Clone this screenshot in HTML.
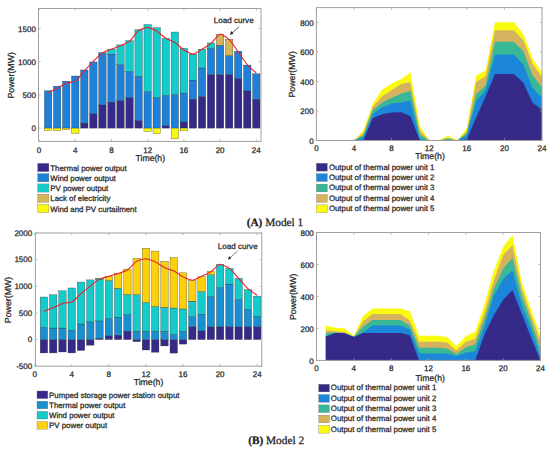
<!DOCTYPE html><html><head><meta charset="utf-8"><style>html,body{margin:0;padding:0;background:#fff;width:550px;height:450px;overflow:hidden}svg{display:block}</style></head><body>
<svg width="550" height="450" viewBox="0 0 550 450" font-family='"Liberation Sans", sans-serif' font-size="8.0" fill="#262626">
<style>text{stroke:#262626;stroke-width:0.25px;text-rendering:geometricPrecision}</style>
<rect width="550" height="450" fill="#fff"/>
<rect x="44.38" y="90.7" width="7.45" height="37.41" fill="#1f80d8" stroke="#2a2a2a" stroke-width="0.3"/>
<rect x="44.38" y="128.11" width="7.45" height="2.33" fill="#f7f711" stroke="#2a2a2a" stroke-width="0.3"/>
<rect x="53.43" y="86.11" width="7.45" height="42" fill="#1f80d8" stroke="#2a2a2a" stroke-width="0.3"/>
<rect x="53.43" y="128.11" width="7.45" height="2.59" fill="#f7f711" stroke="#2a2a2a" stroke-width="0.3"/>
<rect x="62.48" y="81.2" width="7.45" height="46.91" fill="#1f80d8" stroke="#2a2a2a" stroke-width="0.3"/>
<rect x="62.48" y="128.11" width="7.45" height="1.73" fill="#f7f711" stroke="#2a2a2a" stroke-width="0.3"/>
<rect x="71.53" y="76.01" width="7.45" height="52.1" fill="#1f80d8" stroke="#2a2a2a" stroke-width="0.3"/>
<rect x="71.53" y="128.11" width="7.45" height="5.18" fill="#f7f711" stroke="#2a2a2a" stroke-width="0.3"/>
<rect x="80.59" y="123.13" width="7.45" height="4.98" fill="#352a87" stroke="#2a2a2a" stroke-width="0.3"/>
<rect x="80.59" y="69.97" width="7.45" height="53.16" fill="#1f80d8" stroke="#2a2a2a" stroke-width="0.3"/>
<rect x="89.64" y="113.62" width="7.45" height="14.49" fill="#352a87" stroke="#2a2a2a" stroke-width="0.3"/>
<rect x="89.64" y="61.93" width="7.45" height="51.7" fill="#1f80d8" stroke="#2a2a2a" stroke-width="0.3"/>
<rect x="98.69" y="104.99" width="7.45" height="23.12" fill="#352a87" stroke="#2a2a2a" stroke-width="0.3"/>
<rect x="98.69" y="52.69" width="7.45" height="52.3" fill="#1f80d8" stroke="#2a2a2a" stroke-width="0.3"/>
<rect x="107.74" y="102.19" width="7.45" height="25.92" fill="#352a87" stroke="#2a2a2a" stroke-width="0.3"/>
<rect x="107.74" y="54.15" width="7.45" height="48.04" fill="#1f80d8" stroke="#2a2a2a" stroke-width="0.3"/>
<rect x="107.74" y="49.23" width="7.45" height="4.92" fill="#13cccc" stroke="#2a2a2a" stroke-width="0.3"/>
<rect x="116.79" y="100.47" width="7.45" height="27.64" fill="#352a87" stroke="#2a2a2a" stroke-width="0.3"/>
<rect x="116.79" y="64.72" width="7.45" height="35.75" fill="#1f80d8" stroke="#2a2a2a" stroke-width="0.3"/>
<rect x="116.79" y="44.91" width="7.45" height="19.8" fill="#13cccc" stroke="#2a2a2a" stroke-width="0.3"/>
<rect x="125.84" y="97.61" width="7.45" height="30.5" fill="#352a87" stroke="#2a2a2a" stroke-width="0.3"/>
<rect x="125.84" y="71.63" width="7.45" height="25.98" fill="#1f80d8" stroke="#2a2a2a" stroke-width="0.3"/>
<rect x="125.84" y="40.66" width="7.45" height="30.97" fill="#13cccc" stroke="#2a2a2a" stroke-width="0.3"/>
<rect x="134.9" y="120.47" width="7.45" height="7.64" fill="#352a87" stroke="#2a2a2a" stroke-width="0.3"/>
<rect x="134.9" y="76.28" width="7.45" height="44.19" fill="#1f80d8" stroke="#2a2a2a" stroke-width="0.3"/>
<rect x="134.9" y="29.7" width="7.45" height="46.58" fill="#13cccc" stroke="#2a2a2a" stroke-width="0.3"/>
<rect x="143.95" y="91.56" width="7.45" height="36.55" fill="#1f80d8" stroke="#2a2a2a" stroke-width="0.3"/>
<rect x="143.95" y="24.51" width="7.45" height="67.05" fill="#13cccc" stroke="#2a2a2a" stroke-width="0.3"/>
<rect x="143.95" y="128.11" width="7.45" height="3.19" fill="#f7f711" stroke="#2a2a2a" stroke-width="0.3"/>
<rect x="153" y="97.41" width="7.45" height="30.7" fill="#1f80d8" stroke="#2a2a2a" stroke-width="0.3"/>
<rect x="153" y="27.7" width="7.45" height="69.71" fill="#13cccc" stroke="#2a2a2a" stroke-width="0.3"/>
<rect x="153" y="128.11" width="7.45" height="5.45" fill="#f7f711" stroke="#2a2a2a" stroke-width="0.3"/>
<rect x="162.05" y="125.85" width="7.45" height="2.26" fill="#352a87" stroke="#2a2a2a" stroke-width="0.3"/>
<rect x="162.05" y="95.42" width="7.45" height="30.43" fill="#1f80d8" stroke="#2a2a2a" stroke-width="0.3"/>
<rect x="162.05" y="38.34" width="7.45" height="57.08" fill="#13cccc" stroke="#2a2a2a" stroke-width="0.3"/>
<rect x="171.1" y="94.55" width="7.45" height="33.56" fill="#1f80d8" stroke="#2a2a2a" stroke-width="0.3"/>
<rect x="171.1" y="32.02" width="7.45" height="62.53" fill="#13cccc" stroke="#2a2a2a" stroke-width="0.3"/>
<rect x="171.1" y="128.11" width="7.45" height="10.76" fill="#f7f711" stroke="#2a2a2a" stroke-width="0.3"/>
<rect x="180.16" y="122" width="7.45" height="6.11" fill="#352a87" stroke="#2a2a2a" stroke-width="0.3"/>
<rect x="180.16" y="93.22" width="7.45" height="28.77" fill="#1f80d8" stroke="#2a2a2a" stroke-width="0.3"/>
<rect x="180.16" y="48.37" width="7.45" height="44.85" fill="#13cccc" stroke="#2a2a2a" stroke-width="0.3"/>
<rect x="180.16" y="128.11" width="7.45" height="2.79" fill="#f7f711" stroke="#2a2a2a" stroke-width="0.3"/>
<rect x="189.21" y="99.2" width="7.45" height="28.91" fill="#352a87" stroke="#2a2a2a" stroke-width="0.3"/>
<rect x="189.21" y="80.07" width="7.45" height="19.14" fill="#1f80d8" stroke="#2a2a2a" stroke-width="0.3"/>
<rect x="189.21" y="54.15" width="7.45" height="25.92" fill="#13cccc" stroke="#2a2a2a" stroke-width="0.3"/>
<rect x="198.26" y="96.48" width="7.45" height="31.63" fill="#352a87" stroke="#2a2a2a" stroke-width="0.3"/>
<rect x="198.26" y="67.97" width="7.45" height="28.51" fill="#1f80d8" stroke="#2a2a2a" stroke-width="0.3"/>
<rect x="198.26" y="49.23" width="7.45" height="18.74" fill="#13cccc" stroke="#2a2a2a" stroke-width="0.3"/>
<rect x="207.31" y="74.55" width="7.45" height="53.56" fill="#352a87" stroke="#2a2a2a" stroke-width="0.3"/>
<rect x="207.31" y="48.37" width="7.45" height="26.18" fill="#1f80d8" stroke="#2a2a2a" stroke-width="0.3"/>
<rect x="207.31" y="42.92" width="7.45" height="5.45" fill="#13cccc" stroke="#2a2a2a" stroke-width="0.3"/>
<rect x="216.36" y="74.55" width="7.45" height="53.56" fill="#352a87" stroke="#2a2a2a" stroke-width="0.3"/>
<rect x="216.36" y="45.25" width="7.45" height="29.3" fill="#1f80d8" stroke="#2a2a2a" stroke-width="0.3"/>
<rect x="216.36" y="34.28" width="7.45" height="10.96" fill="#d6b45c" stroke="#2a2a2a" stroke-width="0.3"/>
<rect x="225.42" y="74.55" width="7.45" height="53.56" fill="#352a87" stroke="#2a2a2a" stroke-width="0.3"/>
<rect x="225.42" y="55.61" width="7.45" height="18.94" fill="#1f80d8" stroke="#2a2a2a" stroke-width="0.3"/>
<rect x="225.42" y="39.2" width="7.45" height="16.41" fill="#d6b45c" stroke="#2a2a2a" stroke-width="0.3"/>
<rect x="234.47" y="78.6" width="7.45" height="49.51" fill="#352a87" stroke="#2a2a2a" stroke-width="0.3"/>
<rect x="234.47" y="51.23" width="7.45" height="27.38" fill="#1f80d8" stroke="#2a2a2a" stroke-width="0.3"/>
<rect x="243.52" y="90.9" width="7.45" height="37.21" fill="#352a87" stroke="#2a2a2a" stroke-width="0.3"/>
<rect x="243.52" y="65.05" width="7.45" height="25.85" fill="#1f80d8" stroke="#2a2a2a" stroke-width="0.3"/>
<rect x="252.57" y="99.27" width="7.45" height="28.84" fill="#352a87" stroke="#2a2a2a" stroke-width="0.3"/>
<rect x="252.57" y="73.75" width="7.45" height="25.52" fill="#1f80d8" stroke="#2a2a2a" stroke-width="0.3"/>
<path d="M48.1,92.69 C51.12,91.46 54.14,90.06 57.15,88.57 C60.17,86.89 63.19,84.35 66.21,83.06 C69.22,82.25 72.24,82.08 75.26,81.2 C78.28,79.18 81.29,74.19 84.31,70.83 C87.33,67.6 90.34,64.46 93.36,61.39 C96.38,58.44 99.4,54.95 102.41,52.76 C105.43,51.22 108.45,50.22 111.47,49.03 C114.48,47.92 117.5,47.02 120.52,45.84 C123.54,44.48 126.55,43.16 129.57,41.26 C132.59,38.55 135.6,32.97 138.62,30.56 C141.64,29.15 144.66,27.8 147.67,27.37 C150.69,27.87 153.71,29.61 156.73,31.09 C159.74,33.04 162.76,36.33 165.78,38.34 C168.8,39.92 171.81,40.79 174.83,42.39 C177.85,44.47 180.86,47.94 183.88,50.03 C186.9,51.65 189.92,53.6 192.93,54.15 C195.95,53.5 198.97,50.95 201.99,49.23 C205,47.41 208.02,45.7 211.04,43.52 C214.06,40.84 217.07,35.34 220.09,34.08 C223.11,34.79 226.12,37.2 229.14,39.4 C232.16,42.55 235.18,47.64 238.19,51.83 C241.21,56.06 244.23,60.92 247.25,64.65 C250.26,67.77 253.28,70.64 256.3,72.96" fill="none" stroke="#e8212a" stroke-width="1.1" stroke-linejoin="round"/>
<rect x="38.5" y="8.5" width="222.5" height="132.9" fill="none" stroke="#a0a0a0" stroke-width="1.0"/>
<line x1="39.05" y1="141.4" x2="39.05" y2="139.2" stroke="#a0a0a0" stroke-width="0.7"/>
<line x1="39.05" y1="8.5" x2="39.05" y2="10.7" stroke="#a0a0a0" stroke-width="0.7"/>
<text x="39.05" y="152.6" text-anchor="middle">0</text>
<line x1="75.26" y1="141.4" x2="75.26" y2="139.2" stroke="#a0a0a0" stroke-width="0.7"/>
<line x1="75.26" y1="8.5" x2="75.26" y2="10.7" stroke="#a0a0a0" stroke-width="0.7"/>
<text x="75.26" y="152.6" text-anchor="middle">4</text>
<line x1="111.47" y1="141.4" x2="111.47" y2="139.2" stroke="#a0a0a0" stroke-width="0.7"/>
<line x1="111.47" y1="8.5" x2="111.47" y2="10.7" stroke="#a0a0a0" stroke-width="0.7"/>
<text x="111.47" y="152.6" text-anchor="middle">8</text>
<line x1="147.67" y1="141.4" x2="147.67" y2="139.2" stroke="#a0a0a0" stroke-width="0.7"/>
<line x1="147.67" y1="8.5" x2="147.67" y2="10.7" stroke="#a0a0a0" stroke-width="0.7"/>
<text x="147.67" y="152.6" text-anchor="middle">12</text>
<line x1="183.88" y1="141.4" x2="183.88" y2="139.2" stroke="#a0a0a0" stroke-width="0.7"/>
<line x1="183.88" y1="8.5" x2="183.88" y2="10.7" stroke="#a0a0a0" stroke-width="0.7"/>
<text x="183.88" y="152.6" text-anchor="middle">16</text>
<line x1="220.09" y1="141.4" x2="220.09" y2="139.2" stroke="#a0a0a0" stroke-width="0.7"/>
<line x1="220.09" y1="8.5" x2="220.09" y2="10.7" stroke="#a0a0a0" stroke-width="0.7"/>
<text x="220.09" y="152.6" text-anchor="middle">20</text>
<line x1="256.3" y1="141.4" x2="256.3" y2="139.2" stroke="#a0a0a0" stroke-width="0.7"/>
<line x1="256.3" y1="8.5" x2="256.3" y2="10.7" stroke="#a0a0a0" stroke-width="0.7"/>
<text x="256.3" y="152.6" text-anchor="middle">24</text>
<line x1="38.5" y1="128.11" x2="40.7" y2="128.11" stroke="#a0a0a0" stroke-width="0.7"/>
<line x1="261" y1="128.11" x2="258.8" y2="128.11" stroke="#a0a0a0" stroke-width="0.7"/>
<text x="35.9" y="131.41" text-anchor="end">0</text>
<line x1="38.5" y1="94.89" x2="40.7" y2="94.89" stroke="#a0a0a0" stroke-width="0.7"/>
<line x1="261" y1="94.89" x2="258.8" y2="94.89" stroke="#a0a0a0" stroke-width="0.7"/>
<text x="35.9" y="98.19" text-anchor="end">500</text>
<line x1="38.5" y1="61.66" x2="40.7" y2="61.66" stroke="#a0a0a0" stroke-width="0.7"/>
<line x1="261" y1="61.66" x2="258.8" y2="61.66" stroke="#a0a0a0" stroke-width="0.7"/>
<text x="35.9" y="64.96" text-anchor="end">1000</text>
<line x1="38.5" y1="28.44" x2="40.7" y2="28.44" stroke="#a0a0a0" stroke-width="0.7"/>
<line x1="261" y1="28.44" x2="258.8" y2="28.44" stroke="#a0a0a0" stroke-width="0.7"/>
<text x="35.9" y="31.74" text-anchor="end">1500</text>
<text x="150.3" y="160.7" text-anchor="middle" font-size="8.7">Time(h)</text>
<text transform="translate(14.2,75.3) rotate(-90)" text-anchor="middle" font-size="8.8">Power(MW)</text>
<text x="213.8" y="22.5" font-size="8.05">Load curve</text>
<line x1="239.2" y1="26.6" x2="232.0" y2="33.0" stroke="#262626" stroke-width="0.75"/>
<path d="M229.9,34.9 L231.1,30.9 L233.5,33.5 Z" fill="#262626"/>
<rect x="37.7" y="163.4" width="11.2" height="8.2" fill="#352a87" stroke="#666" stroke-width="0.3"/>
<text x="50.3" y="170.5" font-size="7.85">Thermal power output</text>
<rect x="37.7" y="173.65" width="11.2" height="8.2" fill="#1f80d8" stroke="#666" stroke-width="0.3"/>
<text x="50.3" y="180.75" font-size="7.85">Wind power output</text>
<rect x="37.7" y="183.9" width="11.2" height="8.2" fill="#13cccc" stroke="#666" stroke-width="0.3"/>
<text x="50.3" y="191" font-size="7.85">PV power output</text>
<rect x="37.7" y="194.15" width="11.2" height="8.2" fill="#d6b45c" stroke="#666" stroke-width="0.3"/>
<text x="50.3" y="201.25" font-size="7.85">Lack of electricity</text>
<rect x="37.7" y="204.4" width="11.2" height="8.2" fill="#f7f711" stroke="#666" stroke-width="0.3"/>
<text x="50.3" y="211.5" font-size="7.85">Wind and PV curtailment</text>
<rect x="40.2" y="339.56" width="7.45" height="13.37" fill="#352a87" stroke="#2a2a2a" stroke-width="0.3"/>
<rect x="40.2" y="327.47" width="7.45" height="12.09" fill="#1a8fd0" stroke="#2a2a2a" stroke-width="0.3"/>
<rect x="40.2" y="296.99" width="7.45" height="30.48" fill="#14caca" stroke="#2a2a2a" stroke-width="0.3"/>
<rect x="49.47" y="339.56" width="7.45" height="13.37" fill="#352a87" stroke="#2a2a2a" stroke-width="0.3"/>
<rect x="49.47" y="328.05" width="7.45" height="11.51" fill="#1a8fd0" stroke="#2a2a2a" stroke-width="0.3"/>
<rect x="49.47" y="294.8" width="7.45" height="33.25" fill="#14caca" stroke="#2a2a2a" stroke-width="0.3"/>
<rect x="58.75" y="339.56" width="7.45" height="12.41" fill="#352a87" stroke="#2a2a2a" stroke-width="0.3"/>
<rect x="58.75" y="328.05" width="7.45" height="11.51" fill="#1a8fd0" stroke="#2a2a2a" stroke-width="0.3"/>
<rect x="58.75" y="290.81" width="7.45" height="37.24" fill="#14caca" stroke="#2a2a2a" stroke-width="0.3"/>
<rect x="68.02" y="339.56" width="7.45" height="13.37" fill="#352a87" stroke="#2a2a2a" stroke-width="0.3"/>
<rect x="68.02" y="330.24" width="7.45" height="9.32" fill="#1a8fd0" stroke="#2a2a2a" stroke-width="0.3"/>
<rect x="68.02" y="287.98" width="7.45" height="42.25" fill="#14caca" stroke="#2a2a2a" stroke-width="0.3"/>
<rect x="77.3" y="339.56" width="7.45" height="10.87" fill="#352a87" stroke="#2a2a2a" stroke-width="0.3"/>
<rect x="77.3" y="324" width="7.45" height="15.56" fill="#1a8fd0" stroke="#2a2a2a" stroke-width="0.3"/>
<rect x="77.3" y="282.07" width="7.45" height="41.93" fill="#14caca" stroke="#2a2a2a" stroke-width="0.3"/>
<rect x="86.57" y="339.56" width="7.45" height="5.59" fill="#352a87" stroke="#2a2a2a" stroke-width="0.3"/>
<rect x="86.57" y="321.87" width="7.45" height="17.69" fill="#1a8fd0" stroke="#2a2a2a" stroke-width="0.3"/>
<rect x="86.57" y="279.89" width="7.45" height="41.98" fill="#14caca" stroke="#2a2a2a" stroke-width="0.3"/>
<rect x="95.84" y="338.33" width="7.45" height="1.23" fill="#352a87" stroke="#2a2a2a" stroke-width="0.3"/>
<rect x="95.84" y="320.91" width="7.45" height="17.42" fill="#1a8fd0" stroke="#2a2a2a" stroke-width="0.3"/>
<rect x="95.84" y="278.98" width="7.45" height="41.93" fill="#14caca" stroke="#2a2a2a" stroke-width="0.3"/>
<rect x="95.84" y="278.82" width="7.45" height="0.16" fill="#fcd10c" stroke="#2a2a2a" stroke-width="0.3"/>
<rect x="105.12" y="335.83" width="7.45" height="3.73" fill="#352a87" stroke="#2a2a2a" stroke-width="0.3"/>
<rect x="105.12" y="318.73" width="7.45" height="17.1" fill="#1a8fd0" stroke="#2a2a2a" stroke-width="0.3"/>
<rect x="105.12" y="280.53" width="7.45" height="38.2" fill="#14caca" stroke="#2a2a2a" stroke-width="0.3"/>
<rect x="105.12" y="276.16" width="7.45" height="4.37" fill="#fcd10c" stroke="#2a2a2a" stroke-width="0.3"/>
<rect x="114.39" y="335.19" width="7.45" height="4.37" fill="#352a87" stroke="#2a2a2a" stroke-width="0.3"/>
<rect x="114.39" y="317.18" width="7.45" height="18.01" fill="#1a8fd0" stroke="#2a2a2a" stroke-width="0.3"/>
<rect x="114.39" y="288.3" width="7.45" height="28.88" fill="#14caca" stroke="#2a2a2a" stroke-width="0.3"/>
<rect x="114.39" y="273.07" width="7.45" height="15.24" fill="#fcd10c" stroke="#2a2a2a" stroke-width="0.3"/>
<rect x="123.66" y="331.2" width="7.45" height="8.36" fill="#352a87" stroke="#2a2a2a" stroke-width="0.3"/>
<rect x="123.66" y="314.73" width="7.45" height="16.46" fill="#1a8fd0" stroke="#2a2a2a" stroke-width="0.3"/>
<rect x="123.66" y="294.54" width="7.45" height="20.19" fill="#14caca" stroke="#2a2a2a" stroke-width="0.3"/>
<rect x="123.66" y="269.07" width="7.45" height="25.47" fill="#fcd10c" stroke="#2a2a2a" stroke-width="0.3"/>
<rect x="132.94" y="339.56" width="7.45" height="2.08" fill="#352a87" stroke="#2a2a2a" stroke-width="0.3"/>
<rect x="132.94" y="331.35" width="7.45" height="8.21" fill="#1a8fd0" stroke="#2a2a2a" stroke-width="0.3"/>
<rect x="132.94" y="294.64" width="7.45" height="36.71" fill="#14caca" stroke="#2a2a2a" stroke-width="0.3"/>
<rect x="132.94" y="258.2" width="7.45" height="36.44" fill="#fcd10c" stroke="#2a2a2a" stroke-width="0.3"/>
<rect x="142.21" y="339.56" width="7.45" height="10.44" fill="#352a87" stroke="#2a2a2a" stroke-width="0.3"/>
<rect x="142.21" y="331.35" width="7.45" height="8.21" fill="#1a8fd0" stroke="#2a2a2a" stroke-width="0.3"/>
<rect x="142.21" y="302.42" width="7.45" height="28.93" fill="#14caca" stroke="#2a2a2a" stroke-width="0.3"/>
<rect x="142.21" y="248.29" width="7.45" height="54.13" fill="#fcd10c" stroke="#2a2a2a" stroke-width="0.3"/>
<rect x="151.49" y="339.56" width="7.45" height="12.63" fill="#352a87" stroke="#2a2a2a" stroke-width="0.3"/>
<rect x="151.49" y="331.35" width="7.45" height="8.21" fill="#1a8fd0" stroke="#2a2a2a" stroke-width="0.3"/>
<rect x="151.49" y="306.53" width="7.45" height="24.83" fill="#14caca" stroke="#2a2a2a" stroke-width="0.3"/>
<rect x="151.49" y="251.06" width="7.45" height="55.46" fill="#fcd10c" stroke="#2a2a2a" stroke-width="0.3"/>
<rect x="160.76" y="339.56" width="7.45" height="6.39" fill="#352a87" stroke="#2a2a2a" stroke-width="0.3"/>
<rect x="160.76" y="331.35" width="7.45" height="8.21" fill="#1a8fd0" stroke="#2a2a2a" stroke-width="0.3"/>
<rect x="160.76" y="307.38" width="7.45" height="23.98" fill="#14caca" stroke="#2a2a2a" stroke-width="0.3"/>
<rect x="160.76" y="261.34" width="7.45" height="46.03" fill="#fcd10c" stroke="#2a2a2a" stroke-width="0.3"/>
<rect x="170.03" y="339.56" width="7.45" height="13.53" fill="#352a87" stroke="#2a2a2a" stroke-width="0.3"/>
<rect x="170.03" y="334.45" width="7.45" height="5.11" fill="#1a8fd0" stroke="#2a2a2a" stroke-width="0.3"/>
<rect x="170.03" y="308.02" width="7.45" height="26.43" fill="#14caca" stroke="#2a2a2a" stroke-width="0.3"/>
<rect x="170.03" y="257.62" width="7.45" height="50.4" fill="#fcd10c" stroke="#2a2a2a" stroke-width="0.3"/>
<rect x="179.31" y="339.56" width="7.45" height="4.53" fill="#352a87" stroke="#2a2a2a" stroke-width="0.3"/>
<rect x="179.31" y="331.35" width="7.45" height="8.21" fill="#1a8fd0" stroke="#2a2a2a" stroke-width="0.3"/>
<rect x="179.31" y="308.98" width="7.45" height="22.38" fill="#14caca" stroke="#2a2a2a" stroke-width="0.3"/>
<rect x="179.31" y="272.85" width="7.45" height="36.12" fill="#fcd10c" stroke="#2a2a2a" stroke-width="0.3"/>
<rect x="188.58" y="326.67" width="7.45" height="12.89" fill="#352a87" stroke="#2a2a2a" stroke-width="0.3"/>
<rect x="188.58" y="316.7" width="7.45" height="9.96" fill="#1a8fd0" stroke="#2a2a2a" stroke-width="0.3"/>
<rect x="188.58" y="301.15" width="7.45" height="15.56" fill="#14caca" stroke="#2a2a2a" stroke-width="0.3"/>
<rect x="188.58" y="280.53" width="7.45" height="20.62" fill="#fcd10c" stroke="#2a2a2a" stroke-width="0.3"/>
<rect x="197.86" y="330.88" width="7.45" height="8.68" fill="#352a87" stroke="#2a2a2a" stroke-width="0.3"/>
<rect x="197.86" y="314.25" width="7.45" height="16.62" fill="#1a8fd0" stroke="#2a2a2a" stroke-width="0.3"/>
<rect x="197.86" y="291.55" width="7.45" height="22.7" fill="#14caca" stroke="#2a2a2a" stroke-width="0.3"/>
<rect x="197.86" y="276.8" width="7.45" height="14.76" fill="#fcd10c" stroke="#2a2a2a" stroke-width="0.3"/>
<rect x="207.13" y="326.67" width="7.45" height="12.89" fill="#352a87" stroke="#2a2a2a" stroke-width="0.3"/>
<rect x="207.13" y="296.46" width="7.45" height="30.21" fill="#1a8fd0" stroke="#2a2a2a" stroke-width="0.3"/>
<rect x="207.13" y="274.72" width="7.45" height="21.74" fill="#14caca" stroke="#2a2a2a" stroke-width="0.3"/>
<rect x="207.13" y="271.36" width="7.45" height="3.36" fill="#fcd10c" stroke="#2a2a2a" stroke-width="0.3"/>
<rect x="216.41" y="326.67" width="7.45" height="12.89" fill="#352a87" stroke="#2a2a2a" stroke-width="0.3"/>
<rect x="216.41" y="287.77" width="7.45" height="38.89" fill="#1a8fd0" stroke="#2a2a2a" stroke-width="0.3"/>
<rect x="216.41" y="264.44" width="7.45" height="23.34" fill="#14caca" stroke="#2a2a2a" stroke-width="0.3"/>
<rect x="225.68" y="326.67" width="7.45" height="12.89" fill="#352a87" stroke="#2a2a2a" stroke-width="0.3"/>
<rect x="225.68" y="284.1" width="7.45" height="42.57" fill="#1a8fd0" stroke="#2a2a2a" stroke-width="0.3"/>
<rect x="225.68" y="268.59" width="7.45" height="15.5" fill="#14caca" stroke="#2a2a2a" stroke-width="0.3"/>
<rect x="234.95" y="326.67" width="7.45" height="12.89" fill="#352a87" stroke="#2a2a2a" stroke-width="0.3"/>
<rect x="234.95" y="299.6" width="7.45" height="27.07" fill="#1a8fd0" stroke="#2a2a2a" stroke-width="0.3"/>
<rect x="234.95" y="278.39" width="7.45" height="21.21" fill="#14caca" stroke="#2a2a2a" stroke-width="0.3"/>
<rect x="244.23" y="326.67" width="7.45" height="12.89" fill="#352a87" stroke="#2a2a2a" stroke-width="0.3"/>
<rect x="244.23" y="309.46" width="7.45" height="17.21" fill="#1a8fd0" stroke="#2a2a2a" stroke-width="0.3"/>
<rect x="244.23" y="289.48" width="7.45" height="19.98" fill="#14caca" stroke="#2a2a2a" stroke-width="0.3"/>
<rect x="253.5" y="326.67" width="7.45" height="12.89" fill="#352a87" stroke="#2a2a2a" stroke-width="0.3"/>
<rect x="253.5" y="316.38" width="7.45" height="10.28" fill="#1a8fd0" stroke="#2a2a2a" stroke-width="0.3"/>
<rect x="253.5" y="296.24" width="7.45" height="20.14" fill="#14caca" stroke="#2a2a2a" stroke-width="0.3"/>
<path d="M43.92,311.16 C47.02,310.17 50.11,309.06 53.2,307.86 C56.29,306.51 59.38,304.47 62.47,303.44 C65.56,302.79 68.65,302.65 71.75,301.94 C74.84,300.33 77.93,296.33 81.02,293.63 C84.11,291.04 87.2,288.52 90.29,286.07 C93.39,283.7 96.48,280.9 99.57,279.14 C102.66,277.91 105.75,277.11 108.84,276.16 C111.93,275.26 115.02,274.54 118.12,273.6 C121.21,272.51 124.3,271.44 127.39,269.92 C130.48,267.75 133.57,263.28 136.66,261.34 C139.76,260.22 142.85,259.13 145.94,258.79 C149.03,259.19 152.12,260.58 155.21,261.77 C158.3,263.33 161.39,265.97 164.49,267.58 C167.58,268.85 170.67,269.55 173.76,270.83 C176.85,272.5 179.94,275.28 183.03,276.96 C186.13,278.25 189.22,279.82 192.31,280.26 C195.4,279.73 198.49,277.69 201.58,276.32 C204.67,274.86 207.76,273.49 210.86,271.73 C213.95,269.58 217.04,265.18 220.13,264.17 C223.22,264.74 226.31,266.67 229.4,268.43 C232.5,270.95 235.59,275.04 238.68,278.39 C241.77,281.79 244.86,285.69 247.95,288.68 C251.04,291.18 254.13,293.48 257.23,295.34" fill="none" stroke="#e8212a" stroke-width="1.1" stroke-linejoin="round"/>
<rect x="35.4" y="233" width="226.4" height="133.2" fill="none" stroke="#a0a0a0" stroke-width="1.0"/>
<line x1="34.65" y1="366.2" x2="34.65" y2="364" stroke="#a0a0a0" stroke-width="0.7"/>
<line x1="34.65" y1="233" x2="34.65" y2="235.2" stroke="#a0a0a0" stroke-width="0.7"/>
<text x="34.65" y="377" text-anchor="middle">0</text>
<line x1="71.75" y1="366.2" x2="71.75" y2="364" stroke="#a0a0a0" stroke-width="0.7"/>
<line x1="71.75" y1="233" x2="71.75" y2="235.2" stroke="#a0a0a0" stroke-width="0.7"/>
<text x="71.75" y="377" text-anchor="middle">4</text>
<line x1="108.84" y1="366.2" x2="108.84" y2="364" stroke="#a0a0a0" stroke-width="0.7"/>
<line x1="108.84" y1="233" x2="108.84" y2="235.2" stroke="#a0a0a0" stroke-width="0.7"/>
<text x="108.84" y="377" text-anchor="middle">8</text>
<line x1="145.94" y1="366.2" x2="145.94" y2="364" stroke="#a0a0a0" stroke-width="0.7"/>
<line x1="145.94" y1="233" x2="145.94" y2="235.2" stroke="#a0a0a0" stroke-width="0.7"/>
<text x="145.94" y="377" text-anchor="middle">12</text>
<line x1="183.03" y1="366.2" x2="183.03" y2="364" stroke="#a0a0a0" stroke-width="0.7"/>
<line x1="183.03" y1="233" x2="183.03" y2="235.2" stroke="#a0a0a0" stroke-width="0.7"/>
<text x="183.03" y="377" text-anchor="middle">16</text>
<line x1="220.13" y1="366.2" x2="220.13" y2="364" stroke="#a0a0a0" stroke-width="0.7"/>
<line x1="220.13" y1="233" x2="220.13" y2="235.2" stroke="#a0a0a0" stroke-width="0.7"/>
<text x="220.13" y="377" text-anchor="middle">20</text>
<line x1="257.23" y1="366.2" x2="257.23" y2="364" stroke="#a0a0a0" stroke-width="0.7"/>
<line x1="257.23" y1="233" x2="257.23" y2="235.2" stroke="#a0a0a0" stroke-width="0.7"/>
<text x="257.23" y="377" text-anchor="middle">24</text>
<line x1="35.4" y1="366.2" x2="37.6" y2="366.2" stroke="#a0a0a0" stroke-width="0.7"/>
<line x1="261.8" y1="366.2" x2="259.6" y2="366.2" stroke="#a0a0a0" stroke-width="0.7"/>
<text x="32.2" y="369" text-anchor="end">-500</text>
<line x1="35.4" y1="339.56" x2="37.6" y2="339.56" stroke="#a0a0a0" stroke-width="0.7"/>
<line x1="261.8" y1="339.56" x2="259.6" y2="339.56" stroke="#a0a0a0" stroke-width="0.7"/>
<text x="32.2" y="342.36" text-anchor="end">0</text>
<line x1="35.4" y1="312.92" x2="37.6" y2="312.92" stroke="#a0a0a0" stroke-width="0.7"/>
<line x1="261.8" y1="312.92" x2="259.6" y2="312.92" stroke="#a0a0a0" stroke-width="0.7"/>
<text x="32.2" y="315.72" text-anchor="end">500</text>
<line x1="35.4" y1="286.28" x2="37.6" y2="286.28" stroke="#a0a0a0" stroke-width="0.7"/>
<line x1="261.8" y1="286.28" x2="259.6" y2="286.28" stroke="#a0a0a0" stroke-width="0.7"/>
<text x="32.2" y="289.08" text-anchor="end">1000</text>
<line x1="35.4" y1="259.64" x2="37.6" y2="259.64" stroke="#a0a0a0" stroke-width="0.7"/>
<line x1="261.8" y1="259.64" x2="259.6" y2="259.64" stroke="#a0a0a0" stroke-width="0.7"/>
<text x="32.2" y="262.44" text-anchor="end">1500</text>
<line x1="35.4" y1="233" x2="37.6" y2="233" stroke="#a0a0a0" stroke-width="0.7"/>
<line x1="261.8" y1="233" x2="259.6" y2="233" stroke="#a0a0a0" stroke-width="0.7"/>
<text x="32.2" y="235.8" text-anchor="end">2000</text>
<text x="148.5" y="385" text-anchor="middle" font-size="8.7">Time(h)</text>
<text transform="translate(10.8,300) rotate(-90)" text-anchor="middle" font-size="8.8">Power(MW)</text>
<text x="217.8" y="248.6" font-size="8.05">Load curve</text>
<line x1="237.6" y1="251.0" x2="229.9" y2="258.0" stroke="#262626" stroke-width="0.6"/>
<path d="M228.0,259.7 L229.1,256.0 L231.3,258.4 Z" fill="#262626"/>
<rect x="37" y="391" width="10.8" height="7.6" fill="#352a87" stroke="#666" stroke-width="0.3"/>
<text x="49.1" y="397.5" font-size="7.85">Pumped storage power station output</text>
<rect x="37" y="401.2" width="10.8" height="7.6" fill="#1a8fd0" stroke="#666" stroke-width="0.3"/>
<text x="49.1" y="407.7" font-size="7.85">Thermal power output</text>
<rect x="37" y="411.4" width="10.8" height="7.6" fill="#14caca" stroke="#666" stroke-width="0.3"/>
<text x="49.1" y="417.9" font-size="7.85">Wind power output</text>
<rect x="37" y="421.6" width="10.8" height="7.6" fill="#fcd10c" stroke="#666" stroke-width="0.3"/>
<text x="49.1" y="428.1" font-size="7.85">PV power output</text>
<polygon points="316.4,140.5 316.4,140.5 325.8,140.5 335.2,140.5 344.6,140.5 354,140.5 363.4,130.16 372.8,103.58 382.2,89.56 391.6,83.5 401,79.22 410.4,72.57 419.8,125.73 429.2,140.5 438.6,140.5 448,135.77 457.4,140.5 466.8,127.95 476.2,75.53 485.6,70.51 495,22.37 504.4,22.37 513.8,22.37 523.2,33.44 532.6,58.25 542,72.13 542,140.5" fill="#f9fa0f"/>
<polygon points="316.4,140.5 316.4,140.5 325.8,140.5 335.2,140.5 344.6,140.5 354,140.5 363.4,133.12 372.8,106.83 382.2,96.2 391.6,90.15 401,84.09 410.4,82.17 419.8,130.16 429.2,140.5 438.6,140.5 448,137.55 457.4,140.5 466.8,131.2 476.2,81.73 485.6,76.56 495,30.19 504.4,30.19 513.8,30.19 523.2,40.09 532.6,64.01 542,77 542,140.5" fill="#d5b25e"/>
<polygon points="316.4,140.5 316.4,140.5 325.8,140.5 335.2,140.5 344.6,140.5 354,140.5 363.4,135.33 372.8,110.23 382.2,102.4 391.6,97.68 401,93.69 410.4,90.74 419.8,134.59 429.2,140.5 438.6,140.5 448,138.73 457.4,140.5 466.8,133.26 476.2,93.98 485.6,85.57 495,41.86 504.4,41.86 513.8,41.86 523.2,51.01 532.6,75.53 542,87.34 542,140.5" fill="#38b896"/>
<polygon points="316.4,140.5 316.4,140.5 325.8,140.5 335.2,140.5 344.6,140.5 354,140.5 363.4,137.25 372.8,113.92 382.2,107.28 391.6,103.58 401,102.4 410.4,100.48 419.8,139.02 429.2,140.5 438.6,140.5 448,139.76 457.4,140.5 466.8,135.33 476.2,101.07 485.6,90.29 495,54.56 504.4,54.56 513.8,54.56 523.2,64.3 532.6,88.08 542,97.68 542,140.5" fill="#1b86da"/>
<polygon points="316.4,140.5 316.4,140.5 325.8,140.5 335.2,140.5 344.6,140.5 354,140.5 363.4,140.5 372.8,118.35 382.2,114.22 391.6,112.44 401,112.15 410.4,115.99 419.8,140.5 429.2,140.5 438.6,140.5 448,140.5 457.4,140.5 466.8,139.61 476.2,117.61 485.6,96.2 495,73.9 504.4,73.9 513.8,73.9 523.2,82.61 532.6,102.7 542,109.79 542,140.5" fill="#352a87"/>
<rect x="316.4" y="7.6" width="225.6" height="132.9" fill="none" stroke="#a0a0a0" stroke-width="1.0"/>
<line x1="316.4" y1="140.5" x2="316.4" y2="138.3" stroke="#a0a0a0" stroke-width="0.7"/>
<line x1="316.4" y1="7.6" x2="316.4" y2="9.8" stroke="#a0a0a0" stroke-width="0.7"/>
<text x="316.4" y="151.2" text-anchor="middle">0</text>
<line x1="354" y1="140.5" x2="354" y2="138.3" stroke="#a0a0a0" stroke-width="0.7"/>
<line x1="354" y1="7.6" x2="354" y2="9.8" stroke="#a0a0a0" stroke-width="0.7"/>
<text x="354" y="151.2" text-anchor="middle">4</text>
<line x1="391.6" y1="140.5" x2="391.6" y2="138.3" stroke="#a0a0a0" stroke-width="0.7"/>
<line x1="391.6" y1="7.6" x2="391.6" y2="9.8" stroke="#a0a0a0" stroke-width="0.7"/>
<text x="391.6" y="151.2" text-anchor="middle">8</text>
<line x1="429.2" y1="140.5" x2="429.2" y2="138.3" stroke="#a0a0a0" stroke-width="0.7"/>
<line x1="429.2" y1="7.6" x2="429.2" y2="9.8" stroke="#a0a0a0" stroke-width="0.7"/>
<text x="429.2" y="151.2" text-anchor="middle">12</text>
<line x1="466.8" y1="140.5" x2="466.8" y2="138.3" stroke="#a0a0a0" stroke-width="0.7"/>
<line x1="466.8" y1="7.6" x2="466.8" y2="9.8" stroke="#a0a0a0" stroke-width="0.7"/>
<text x="466.8" y="151.2" text-anchor="middle">16</text>
<line x1="504.4" y1="140.5" x2="504.4" y2="138.3" stroke="#a0a0a0" stroke-width="0.7"/>
<line x1="504.4" y1="7.6" x2="504.4" y2="9.8" stroke="#a0a0a0" stroke-width="0.7"/>
<text x="504.4" y="151.2" text-anchor="middle">20</text>
<line x1="542" y1="140.5" x2="542" y2="138.3" stroke="#a0a0a0" stroke-width="0.7"/>
<line x1="542" y1="7.6" x2="542" y2="9.8" stroke="#a0a0a0" stroke-width="0.7"/>
<text x="542" y="151.2" text-anchor="middle">24</text>
<line x1="316.4" y1="140.5" x2="318.6" y2="140.5" stroke="#a0a0a0" stroke-width="0.7"/>
<line x1="542" y1="140.5" x2="539.8" y2="140.5" stroke="#a0a0a0" stroke-width="0.7"/>
<text x="313.6" y="143.8" text-anchor="end">0</text>
<line x1="316.4" y1="110.97" x2="318.6" y2="110.97" stroke="#a0a0a0" stroke-width="0.7"/>
<line x1="542" y1="110.97" x2="539.8" y2="110.97" stroke="#a0a0a0" stroke-width="0.7"/>
<text x="313.6" y="114.27" text-anchor="end">200</text>
<line x1="316.4" y1="81.43" x2="318.6" y2="81.43" stroke="#a0a0a0" stroke-width="0.7"/>
<line x1="542" y1="81.43" x2="539.8" y2="81.43" stroke="#a0a0a0" stroke-width="0.7"/>
<text x="313.6" y="84.73" text-anchor="end">400</text>
<line x1="316.4" y1="51.9" x2="318.6" y2="51.9" stroke="#a0a0a0" stroke-width="0.7"/>
<line x1="542" y1="51.9" x2="539.8" y2="51.9" stroke="#a0a0a0" stroke-width="0.7"/>
<text x="313.6" y="55.2" text-anchor="end">600</text>
<line x1="316.4" y1="22.37" x2="318.6" y2="22.37" stroke="#a0a0a0" stroke-width="0.7"/>
<line x1="542" y1="22.37" x2="539.8" y2="22.37" stroke="#a0a0a0" stroke-width="0.7"/>
<text x="313.6" y="25.67" text-anchor="end">800</text>
<text x="430" y="158.8" text-anchor="middle" font-size="8.7">Time(h)</text>
<text transform="translate(294.7,74.4) rotate(-90)" text-anchor="middle" font-size="8.8">Power(MW)</text>
<rect x="316.4" y="163.3" width="10.9" height="7.8" fill="#352a87" stroke="#666" stroke-width="0.3"/>
<text x="328.9" y="169.5" font-size="7.85">Output of thermal power unit 1</text>
<rect x="316.4" y="173.7" width="10.9" height="7.8" fill="#1b86da" stroke="#666" stroke-width="0.3"/>
<text x="328.9" y="179.9" font-size="7.85">Output of thermal power unit 2</text>
<rect x="316.4" y="184.1" width="10.9" height="7.8" fill="#38b896" stroke="#666" stroke-width="0.3"/>
<text x="328.9" y="190.3" font-size="7.85">Output of thermal power unit 3</text>
<rect x="316.4" y="194.5" width="10.9" height="7.8" fill="#d5b25e" stroke="#666" stroke-width="0.3"/>
<text x="328.9" y="200.7" font-size="7.85">Output of thermal power unit 4</text>
<rect x="316.4" y="204.9" width="10.9" height="7.8" fill="#f9fa0f" stroke="#666" stroke-width="0.3"/>
<text x="328.9" y="211.1" font-size="7.85">Output of thermal power unit 5</text>
<polygon points="325.83,360.4 325.83,325.55 335.17,327.63 344.5,328.27 353.83,335.94 363.17,315.63 372.5,308.6 381.83,308.6 391.17,308.6 400.5,308.6 409.83,311.16 419.17,335.78 428.5,335.78 437.83,335.78 447.17,337.06 456.5,346.33 465.83,336.1 475.17,331.78 484.5,303.96 493.83,270.71 503.17,246.89 512.5,234.9 521.83,282.54 531.17,309.56 540.5,336.42 540.5,360.4" fill="#f9fa0f"/>
<polygon points="325.83,360.4 325.83,330.02 335.17,331.3 344.5,331.94 353.83,336.42 363.17,321.23 372.5,314.04 381.83,314.04 391.17,314.04 400.5,314.04 409.83,320.59 419.17,341.85 428.5,341.85 437.83,341.85 447.17,342.49 456.5,350.49 465.83,341.69 475.17,338.66 484.5,312.28 493.83,280.46 503.17,254.88 512.5,245.29 521.83,288.46 531.17,315.48 540.5,340.9 540.5,360.4" fill="#d5b25e"/>
<polygon points="325.83,360.4 325.83,332.9 335.17,332.42 344.5,332.9 353.83,336.74 363.17,326.51 372.5,319.95 381.83,319.95 391.17,319.95 400.5,319.95 409.83,325.55 419.17,347.77 428.5,347.77 437.83,347.77 447.17,348.41 456.5,354 465.83,347.29 475.17,344.25 484.5,319.15 493.83,288.78 503.17,268.47 512.5,258.08 521.83,295.97 531.17,321.39 540.5,349.85 540.5,360.4" fill="#38b896"/>
<polygon points="325.83,360.4 325.83,336.42 335.17,332.9 344.5,333.22 353.83,336.9 363.17,332.58 372.5,325.39 381.83,325.39 391.17,325.39 400.5,325.39 409.83,329.38 419.17,353.53 428.5,353.53 437.83,353.53 447.17,353.85 456.5,355.92 465.83,352.73 475.17,351.13 484.5,326.19 493.83,295.65 503.17,279.02 512.5,270.55 521.83,304.92 531.17,328.9 540.5,357.36 540.5,360.4" fill="#1b86da"/>
<polygon points="325.83,360.4 325.83,336.42 335.17,332.9 344.5,333.22 353.83,337.06 363.17,333.06 372.5,333.06 381.83,333.06 391.17,333.06 400.5,333.06 409.83,335.3 419.17,360.4 428.5,360.4 437.83,360.4 447.17,360.4 456.5,360.4 465.83,360.4 475.17,360.4 484.5,334.5 493.83,315.16 503.17,299.65 512.5,290.06 521.83,314.04 531.17,338.02 540.5,360.4 540.5,360.4" fill="#352a87"/>
<rect x="316.5" y="232.5" width="224" height="127.9" fill="none" stroke="#a0a0a0" stroke-width="1.0"/>
<line x1="316.5" y1="360.4" x2="316.5" y2="358.2" stroke="#a0a0a0" stroke-width="0.7"/>
<line x1="316.5" y1="232.5" x2="316.5" y2="234.7" stroke="#a0a0a0" stroke-width="0.7"/>
<text x="316.5" y="371.4" text-anchor="middle">0</text>
<line x1="353.83" y1="360.4" x2="353.83" y2="358.2" stroke="#a0a0a0" stroke-width="0.7"/>
<line x1="353.83" y1="232.5" x2="353.83" y2="234.7" stroke="#a0a0a0" stroke-width="0.7"/>
<text x="353.83" y="371.4" text-anchor="middle">4</text>
<line x1="391.17" y1="360.4" x2="391.17" y2="358.2" stroke="#a0a0a0" stroke-width="0.7"/>
<line x1="391.17" y1="232.5" x2="391.17" y2="234.7" stroke="#a0a0a0" stroke-width="0.7"/>
<text x="391.17" y="371.4" text-anchor="middle">8</text>
<line x1="428.5" y1="360.4" x2="428.5" y2="358.2" stroke="#a0a0a0" stroke-width="0.7"/>
<line x1="428.5" y1="232.5" x2="428.5" y2="234.7" stroke="#a0a0a0" stroke-width="0.7"/>
<text x="428.5" y="371.4" text-anchor="middle">12</text>
<line x1="465.83" y1="360.4" x2="465.83" y2="358.2" stroke="#a0a0a0" stroke-width="0.7"/>
<line x1="465.83" y1="232.5" x2="465.83" y2="234.7" stroke="#a0a0a0" stroke-width="0.7"/>
<text x="465.83" y="371.4" text-anchor="middle">16</text>
<line x1="503.17" y1="360.4" x2="503.17" y2="358.2" stroke="#a0a0a0" stroke-width="0.7"/>
<line x1="503.17" y1="232.5" x2="503.17" y2="234.7" stroke="#a0a0a0" stroke-width="0.7"/>
<text x="503.17" y="371.4" text-anchor="middle">20</text>
<line x1="540.5" y1="360.4" x2="540.5" y2="358.2" stroke="#a0a0a0" stroke-width="0.7"/>
<line x1="540.5" y1="232.5" x2="540.5" y2="234.7" stroke="#a0a0a0" stroke-width="0.7"/>
<text x="540.5" y="371.4" text-anchor="middle">24</text>
<line x1="316.5" y1="360.4" x2="318.7" y2="360.4" stroke="#a0a0a0" stroke-width="0.7"/>
<line x1="540.5" y1="360.4" x2="538.3" y2="360.4" stroke="#a0a0a0" stroke-width="0.7"/>
<text x="313.8" y="363.7" text-anchor="end">0</text>
<line x1="316.5" y1="328.42" x2="318.7" y2="328.42" stroke="#a0a0a0" stroke-width="0.7"/>
<line x1="540.5" y1="328.42" x2="538.3" y2="328.42" stroke="#a0a0a0" stroke-width="0.7"/>
<text x="313.8" y="331.72" text-anchor="end">200</text>
<line x1="316.5" y1="296.45" x2="318.7" y2="296.45" stroke="#a0a0a0" stroke-width="0.7"/>
<line x1="540.5" y1="296.45" x2="538.3" y2="296.45" stroke="#a0a0a0" stroke-width="0.7"/>
<text x="313.8" y="299.75" text-anchor="end">400</text>
<line x1="316.5" y1="264.48" x2="318.7" y2="264.48" stroke="#a0a0a0" stroke-width="0.7"/>
<line x1="540.5" y1="264.48" x2="538.3" y2="264.48" stroke="#a0a0a0" stroke-width="0.7"/>
<text x="313.8" y="267.78" text-anchor="end">600</text>
<line x1="316.5" y1="232.5" x2="318.7" y2="232.5" stroke="#a0a0a0" stroke-width="0.7"/>
<line x1="540.5" y1="232.5" x2="538.3" y2="232.5" stroke="#a0a0a0" stroke-width="0.7"/>
<text x="313.8" y="235.8" text-anchor="end">800</text>
<text x="430.2" y="380.5" text-anchor="middle" font-size="8.7">Time(h)</text>
<text transform="translate(296.3,296.8) rotate(-90)" text-anchor="middle" font-size="8.8">Power(MW)</text>
<rect x="318.7" y="384.3" width="10.7" height="7.6" fill="#352a87" stroke="#666" stroke-width="0.3"/>
<text x="330.8" y="390.4" font-size="7.85">Output of thermal power unit 1</text>
<rect x="318.7" y="394.6" width="10.7" height="7.6" fill="#1b86da" stroke="#666" stroke-width="0.3"/>
<text x="330.8" y="400.7" font-size="7.85">Output of thermal power unit 2</text>
<rect x="318.7" y="404.9" width="10.7" height="7.6" fill="#38b896" stroke="#666" stroke-width="0.3"/>
<text x="330.8" y="411" font-size="7.85">Output of thermal power unit 3</text>
<rect x="318.7" y="415.2" width="10.7" height="7.6" fill="#d5b25e" stroke="#666" stroke-width="0.3"/>
<text x="330.8" y="421.3" font-size="7.85">Output of thermal power unit 4</text>
<rect x="318.7" y="425.5" width="10.7" height="7.6" fill="#f9fa0f" stroke="#666" stroke-width="0.3"/>
<text x="330.8" y="431.6" font-size="7.85">Output of thermal power unit 5</text>
<text x="246.7" y="225.5" font-family='"Liberation Serif", serif' font-size="11.3" fill="#1a1a1a"><tspan font-weight="bold">(A)</tspan> Model 1</text>
<text x="248.2" y="444.2" font-family='"Liberation Serif", serif' font-size="11.3" fill="#1a1a1a"><tspan font-weight="bold">(B)</tspan> Model 2</text>
</svg></body></html>
